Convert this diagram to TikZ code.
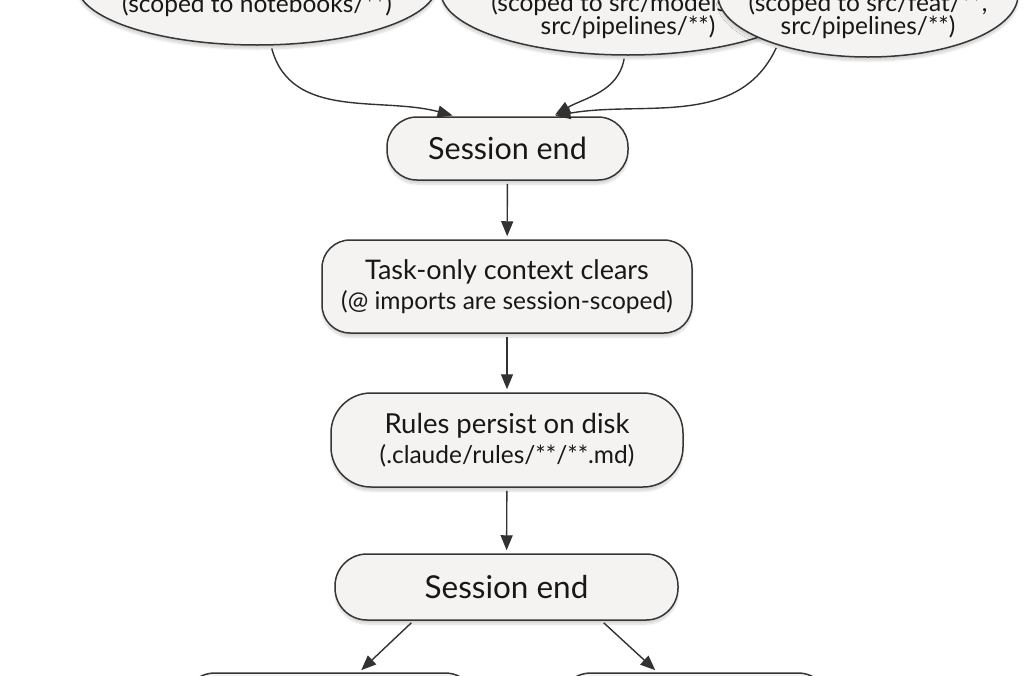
\documentclass[tikz,border=0pt]{standalone}
\usepackage{fontspec}
\setmainfont{Lato}
\usetikzlibrary{arrows.meta,shapes.geometric,shadows.blur}
\definecolor{boxfill}{HTML}{F4F3F1}
\definecolor{boxline}{HTML}{363636}
\definecolor{arrowcol}{HTML}{323232}
\definecolor{txtcol}{HTML}{171717}
\newcommand{\subline}[1]{{\fontsize{24.5}{30}\selectfont #1}}
\tikzset{
  softshadow/.style={blur shadow={shadow xshift=0pt, shadow yshift=-4pt, shadow blur steps=8, shadow opacity=16}},
  stepbox/.style={draw=boxline, fill=boxfill, line width=1.5pt, rounded corners=#1, text=txtcol, align=center, softshadow},
  stepbox/.default=28pt,
  scopeell/.style={ellipse, draw=boxline, fill=boxfill, line width=1.5pt, softshadow},
  ellfont/.style={text=txtcol, align=center, font=\fontsize{24.5}{23.5}\selectfont},
  flow/.style={-{Triangle[length=15pt,width=12pt]}, draw=arrowcol, line width=1.4pt, shorten <=3pt, shorten >=3pt},
}
\begin{document}
\begin{tikzpicture}[x=1pt, y=1pt]
  \useasboundingbox (0,-675) rectangle (1024,0);
  \clip (0,-675) rectangle (1024,0);
  % rule scopes
  \node[scopeell, minimum width=360pt, minimum height=120pt,
        label={[ellfont, yshift=-20.5pt]center:{(scoped to notebooks/**)}}] (nbscope) at (257,15) {};
  \node[scopeell, minimum width=374pt, minimum height=126pt,
        label={[ellfont, yshift=-23.5pt]center:{(scoped to src/models/**,\\src/pipelines/**)}}] (modscope) at (628,8) {};
  \node[scopeell, minimum width=300pt, minimum height=124pt,
        label={[ellfont, yshift=-20.5pt]center:{(scoped to src/feat/**,\\src/pipelines/**)}}] (featscope) at (868,5) {};
  % main chain
  \node[stepbox=30pt, minimum width=241pt, minimum height=63pt, font=\fontsize{30.5}{34}\selectfont] (endA) at (507.5,-148.5) {Session end};
  \node[stepbox, minimum width=370pt, minimum height=93pt, font=\fontsize{27}{30}\selectfont] (clears) at (507,-286.5) {Task-only context clears\\\subline{(@ imports are session-scoped)}};
  \node[stepbox=40pt, minimum width=352pt, minimum height=94pt, font=\fontsize{27.5}{30}\selectfont] (persist) at (507,-440) {Rules persist on disk\\\subline{(.claude/rules/**/**.md)}};
  \node[stepbox=32pt, minimum width=343pt, minimum height=66pt, font=\fontsize{31.5}{34}\selectfont] (endB) at (506.5,-587) {Session end};
  \node[stepbox=32pt, minimum width=294pt, minimum height=70pt] (outL) at (330,-708) {};
  \node[stepbox=32pt, minimum width=271pt, minimum height=70pt] (outR) at (694.5,-708) {};
  % connectors
  \draw[flow] (nbscope.-77) to[out=-75, in=165] ([xshift=-52pt]endA.north);
  \draw[flow] (modscope.-93) to[out=-100, in=30] ([xshift=45pt]endA.north);
  \draw[flow] (featscope.-151) to[out=-115, in=10] ([xshift=45pt]endA.north);
  \draw[flow] (endA) -- (clears);
  \draw[flow] (clears) -- (persist);
  \draw[flow] (persist) -- (endB);
  \draw[flow] ([xshift=-93pt]endB.south) -- ([xshift=29pt]outL.north);
  \draw[flow] ([xshift=95pt]endB.south) -- ([xshift=-37pt]outR.north);
\end{tikzpicture}
\end{document}
